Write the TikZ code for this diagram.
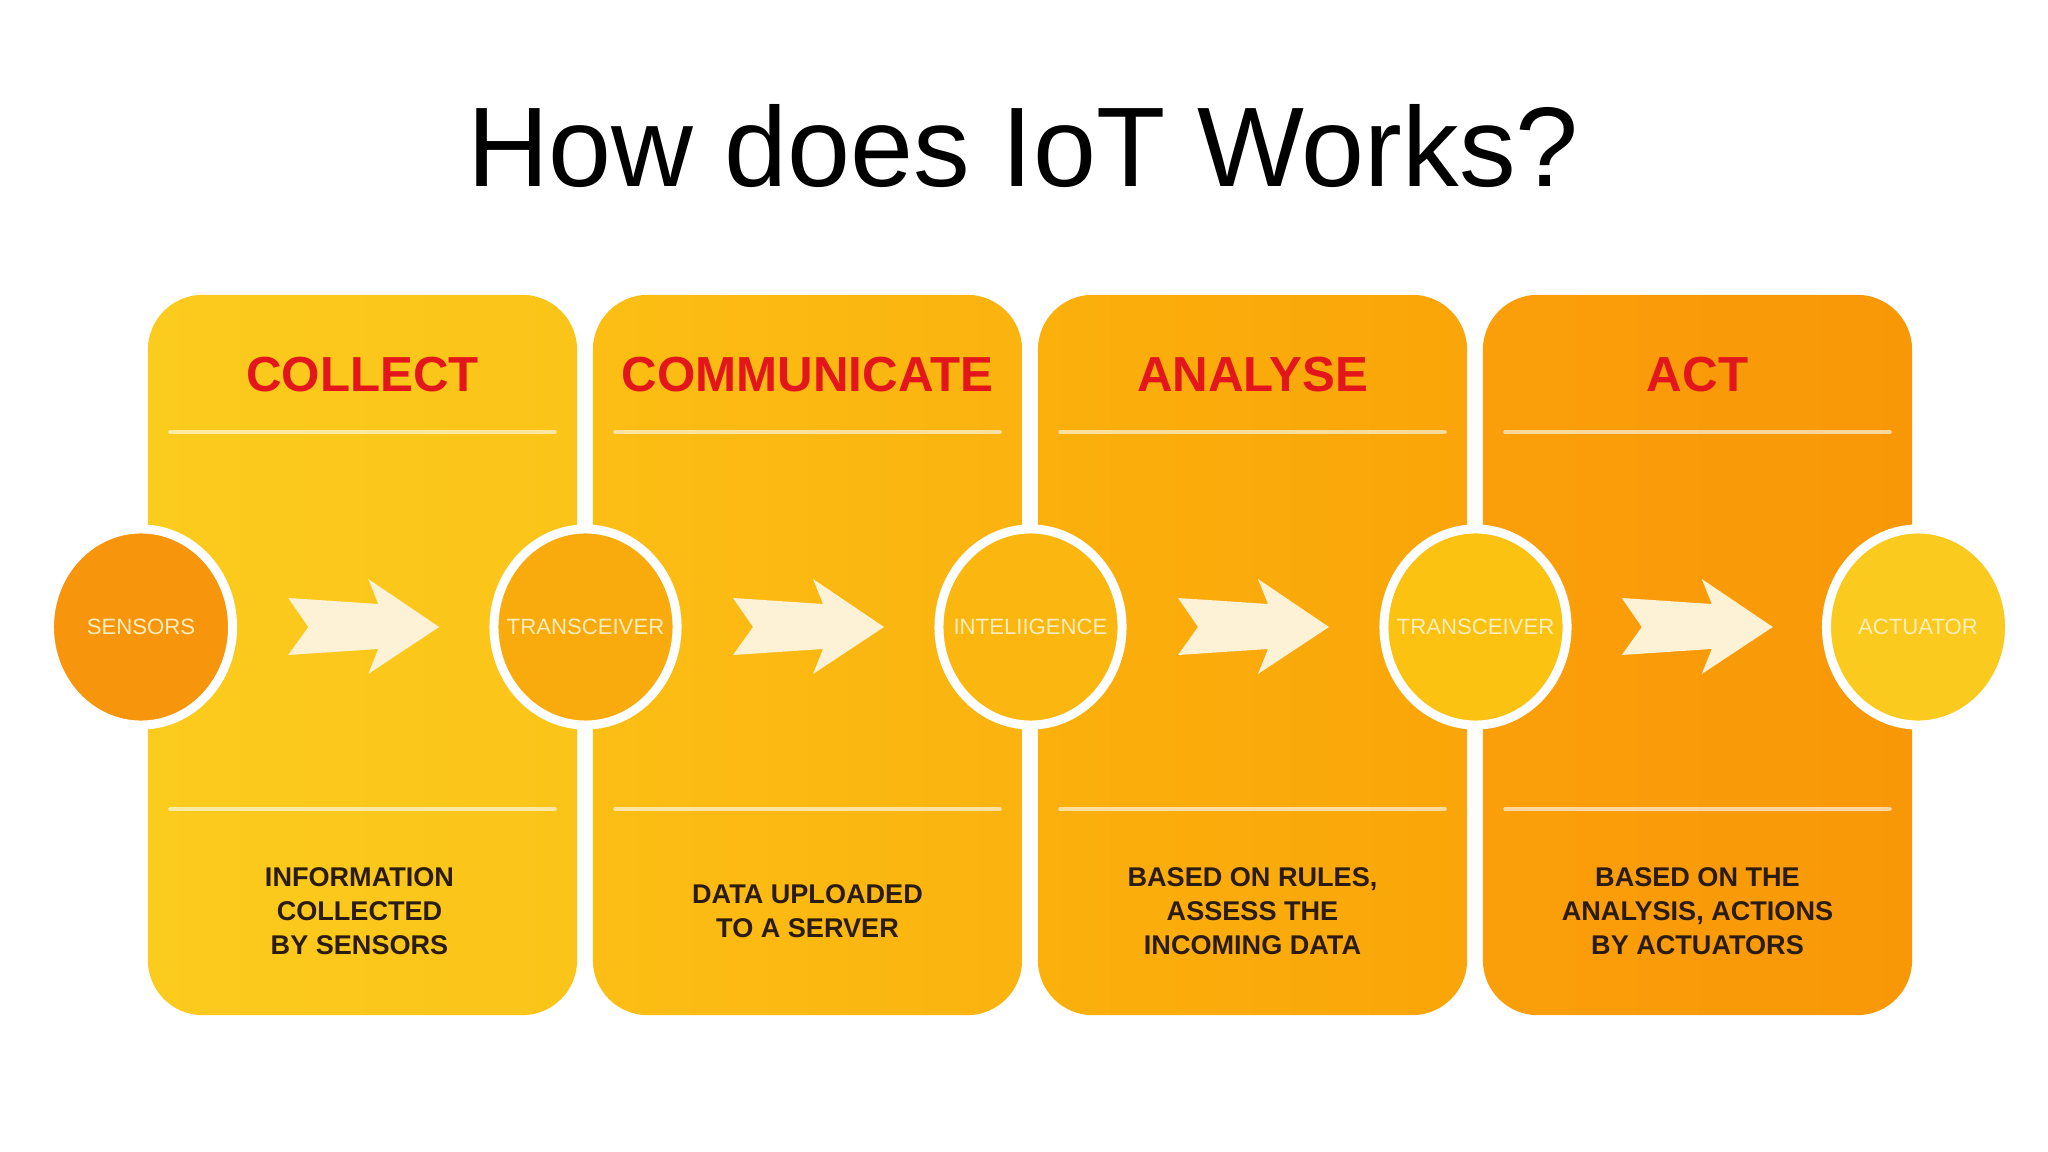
\documentclass[tikz,border=0pt]{standalone}
\usepackage{fontspec}
\setmainfont{Liberation Sans}
\usepackage{tikz}
\usetikzlibrary{calc, shapes.geometric}
\usepackage{xcolor}

\definecolor{headred}{HTML}{E3161C}
\definecolor{desctext}{HTML}{2A1C10}
\definecolor{ringtext}{HTML}{FFEDBE}
\definecolor{arrowcream}{HTML}{FDF1D6}
\definecolor{panelA}{HTML}{FBCB1D}
\definecolor{panelAr}{HTML}{FBC418}
\definecolor{panelB}{HTML}{FCBE14}
\definecolor{panelBr}{HTML}{FBB30F}
\definecolor{panelC}{HTML}{FBB00C}
\definecolor{panelCr}{HTML}{FAA509}
\definecolor{panelD}{HTML}{FA9F0A}
\definecolor{panelDr}{HTML}{F99807}
\definecolor{dotA}{HTML}{F7950C}
\definecolor{dotB}{HTML}{F9AB0E}
\definecolor{dotC}{HTML}{FBB70F}
\definecolor{dotD}{HTML}{FBC212}
\definecolor{dotE}{HTML}{FACB1E}

\begin{document}
\begin{tikzpicture}[x=0.01cm, y=-0.01cm, line cap=round,
    panel/.style={rounded corners=0.55cm, minimum width=4.29cm,
        minimum height=7.2cm, inner sep=0pt},
    stage/.style={ellipse, draw=white, line width=0.09cm, minimum width=1.83cm,
        minimum height=1.96cm, inner sep=0pt, text=ringtext,
        font=\fontsize{6.3}{7.5}\selectfont},
    head/.style={text=headred, font=\bfseries\fontsize{14}{17}\selectfont},
    desc/.style={text=desctext, align=center, font=\bfseries\fontsize{7.7}{9.7}\selectfont},
    sepline/.style={draw=white, draw opacity=0.6, line width=0.04cm},
    flowarrow/.pic={
        \fill[arrowcream] (-75,-29) -- (-55,0) -- (-75,28) -- (15,22) -- (5,47)
            -- (76,0) -- (5,-48) -- (15,-23) -- cycle;
    }]

    % Page
    \fill[white] (0,0) rectangle (2048,1152);
    \useasboundingbox (0,0) rectangle (2048,1152);

    % Title
    \node[anchor=base, font=\fontsize{32.2}{39}\selectfont] (title) at (1023,187)
        {How does IoT Works?};

    % Panels
    \node[panel, left color=panelA, right color=panelAr] (collect) at (362.5,655) {};
    \node[panel, left color=panelB, right color=panelBr] (communicate) at (807.5,655) {};
    \node[panel, left color=panelC, right color=panelCr] (analyse) at (1252.5,655) {};
    \node[panel, left color=panelD, right color=panelDr] (act) at (1697.5,655) {};

    % ---- Separator lines ----
    \foreach \p in {collect, communicate, analyse, act} {
        \draw[sepline] ($(\p.north west)+(23,138)$) -- ($(\p.north east)+(-23,138)$);
        \draw[sepline] ($(\p.north west)+(23,515)$) -- ($(\p.north east)+(-23,515)$);
    }

    % Headings
    \node[head] (collectH) at ($(collect.north)+(0,80)$) {COLLECT};
    \node[head] (communicateH) at ($(communicate.north)+(0,80)$) {COMMUNICATE};
    \node[head] (analyseH) at ($(analyse.north)+(0,80)$) {ANALYSE};
    \node[head] (actH) at ($(act.north)+(0,80)$) {ACT};

    % Descriptions
    \node[desc] (collectD) at ($(collect.north)+(-3,617)$)
        {INFORMATION\\COLLECTED\\BY SENSORS};
    \node[desc] (communicateD) at ($(communicate.north)+(0,617)$)
        {DATA UPLOADED\\TO A SERVER};
    \node[desc] (analyseD) at ($(analyse.north)+(0,617)$)
        {BASED ON RULES,\\ASSESS THE\\INCOMING DATA};
    \node[desc] (actD) at ($(act.north)+(0,617)$)
        {BASED ON THE\\ANALYSIS, ACTIONS\\BY ACTUATORS};

    % Stage circles (text kept out of the shape size)
    \node[stage, fill=dotA] (sensors) at (141,627) {\makebox[0pt]{SENSORS}};
    \node[stage, fill=dotB] (transA) at (585.5,627) {\makebox[0pt]{TRANSCEIVER}};
    \node[stage, fill=dotC] (intel) at (1030.5,627) {\makebox[0pt]{INTELIIGENCE}};
    \node[stage, fill=dotD] (transB) at (1475.5,627) {\makebox[0pt]{TRANSCEIVER}};
    \node[stage, fill=dotE] (actuator) at (1918,627) {\makebox[0pt]{ACTUATOR}};

    % Flow arrows
    \pic at ($(sensors)!0.5!(transA)$) {flowarrow};
    \pic at ($(transA)!0.5!(intel)$) {flowarrow};
    \pic at ($(intel)!0.5!(transB)$) {flowarrow};
    \pic at ($(transB)!0.5!(actuator)$) {flowarrow};
\end{tikzpicture}
\end{document}
